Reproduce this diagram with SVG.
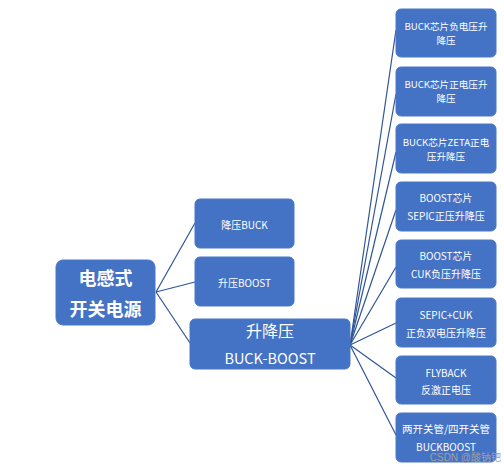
<svg xmlns="http://www.w3.org/2000/svg" width="504" height="470" viewBox="0 0 504 470">
<style>
.box{fill:#4472C4;stroke:#4A78C8;stroke-width:1}
.t{fill:#ffffff;font-family:"Noto Sans CJK SC","Liberation Sans",sans-serif;text-anchor:middle;dominant-baseline:central}
.s{font-size:10px}
.w{font-size:9.6px}
.m{font-size:10.5px}
.c{fill:none;stroke:#2F5597;stroke-width:1.2}
</style>
<rect width="504" height="470" fill="#ffffff"/>
<g id="connectors">
<path class="c" d="M156 292 L195 223"/>
<path class="c" d="M156 292 L195 282"/>
<path class="c" d="M156 292 L190 343"/>
<path class="c" d="M350 345 L396 30"/>
<path class="c" d="M350 345 L396 94"/>
<path class="c" d="M350 345 L396 152"/>
<path class="c" d="M350 345 L396 210"/>
<path class="c" d="M350 345 L396 267"/>
<path class="c" d="M350 345 L396 323"/>
<path class="c" d="M350 345 L396 378"/>
<path class="c" d="M350 345 L396 435"/>
</g>
<g id="root">
<rect class="box" x="56" y="260" width="99" height="65" rx="7"/>
<text class="t" x="105.5" y="277" font-size="18" font-weight="bold">电感式</text>
<text class="t" x="105.5" y="308" font-size="18" font-weight="bold">开关电源</text>
</g>
<g id="buck">
<rect class="box" x="195" y="199" width="99" height="49" rx="5"/>
<text class="t s" x="244.5" y="224">降压BUCK</text>
</g>
<g id="boost">
<rect class="box" x="195" y="257" width="99" height="49" rx="5"/>
<text class="t s" x="244.5" y="282">升压BOOST</text>
</g>
<g id="buckboost">
<rect class="box" x="190" y="319" width="160" height="50" rx="5"/>
<text class="t" x="270" y="330" font-size="16">升降压</text>
<text class="t" x="270" y="357" font-size="14.5">BUCK-BOOST</text>
</g>
<g id="n1">
<rect class="box" x="396" y="9" width="100" height="48" rx="5"/>
<text class="t w" x="446" y="26">BUCK芯片负电压升</text>
<text class="t w" x="446" y="40">降压</text>
</g>
<g id="n2">
<rect class="box" x="396" y="67" width="100" height="49" rx="5"/>
<text class="t w" x="446" y="84">BUCK芯片正电压升</text>
<text class="t w" x="446" y="98">降压</text>
</g>
<g id="n3">
<rect class="box" x="396" y="124" width="100" height="49" rx="5"/>
<text class="t w" x="446" y="142">BUCK芯片ZETA正电</text>
<text class="t w" x="446" y="156">压升降压</text>
</g>
<g id="n4">
<rect class="box" x="396" y="182" width="100" height="49" rx="5"/>
<text class="t s" x="446" y="197">BOOST芯片</text>
<text class="t s" x="446" y="215">SEPIC正压升降压</text>
</g>
<g id="n5">
<rect class="box" x="396" y="240" width="100" height="48" rx="5"/>
<text class="t s" x="446" y="255">BOOST芯片</text>
<text class="t s" x="446" y="273">CUK负压升降压</text>
</g>
<g id="n6">
<rect class="box" x="396" y="298" width="100" height="49" rx="5"/>
<text class="t s" x="446" y="314">SEPIC+CUK</text>
<text class="t s" x="446" y="332">正负双电压升降压</text>
</g>
<g id="n7">
<rect class="box" x="396" y="356" width="100" height="48" rx="5"/>
<text class="t s" x="446" y="372">FLYBACK</text>
<text class="t s" x="446" y="389">反激正电压</text>
</g>
<g id="n8">
<rect class="box" x="396" y="413" width="100" height="49" rx="5"/>
<text class="t m" x="446" y="428">两开关管/四开关管</text>
<text class="t s" x="446" y="446">BUCKBOOST</text>
</g>
<text x="501" y="461" text-anchor="end" font-family="'Liberation Sans','Noto Sans CJK SC',sans-serif" font-size="10" fill="#A0A0A0">CSDN @酸钠钯</text>
</svg>
